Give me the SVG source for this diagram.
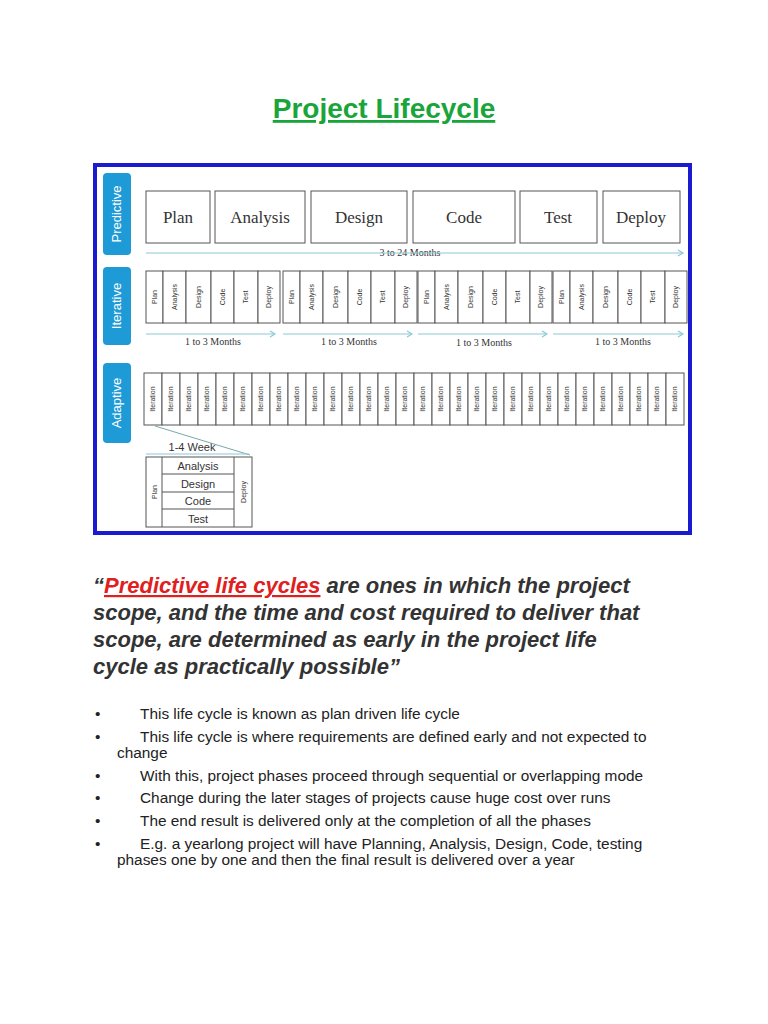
<svg xmlns="http://www.w3.org/2000/svg" width="768" height="1024" viewBox="0 0 768 1024">
<style>
.cell{fill:#fff;stroke:#555;stroke-width:1}
.big{font-family:"Liberation Serif",serif;font-size:17px;fill:#333;text-anchor:middle}
.sm{font-family:"Liberation Sans",sans-serif;font-size:7px;fill:#333;text-anchor:middle}
.tab{fill:#1e9ad6}
.tabt{font-family:"Liberation Sans",sans-serif;font-size:13px;fill:#fff;text-anchor:middle}
.mo{font-family:"Liberation Serif",serif;font-size:10px;fill:#333;text-anchor:middle}
.ln{stroke:#8cc8d8;stroke-width:1.2;fill:none}
.q{font-family:"Liberation Sans",sans-serif;font-size:22px;font-weight:bold;font-style:italic;fill:#333}
.b{font-family:"Liberation Sans",sans-serif;font-size:15.4px;fill:#222}
.ad{font-family:"Liberation Sans",sans-serif;font-size:11px;fill:#333;text-anchor:middle}
</style>
<rect width="768" height="1024" fill="#fff"/>
<text x="384" y="118" text-anchor="middle" font-family="Liberation Sans,sans-serif" font-size="28" font-weight="bold" fill="#1aa53a" text-decoration="underline">Project Lifecycle</text>
<rect x="95" y="165" width="595" height="368" fill="#fff" stroke="#1a1ad0" stroke-width="4"/>
<g id="tabs">
<rect class="tab" x="103" y="173" width="28" height="82" rx="4"/><text class="tabt" transform="translate(121,214) rotate(-90)">Predictive</text>
<rect class="tab" x="103" y="267" width="28" height="78" rx="4"/><text class="tabt" transform="translate(121,306) rotate(-90)">Iterative</text>
<rect class="tab" x="103" y="363" width="28" height="80" rx="4"/><text class="tabt" transform="translate(121,403) rotate(-90)">Adaptive</text>
</g>
<g id="predictive">
<rect class="cell" x="146" y="191" width="64" height="52"/><text class="big" x="178" y="223">Plan</text>
<rect class="cell" x="215" y="191" width="90" height="52"/><text class="big" x="260" y="223">Analysis</text>
<rect class="cell" x="311" y="191" width="96" height="52"/><text class="big" x="359" y="223">Design</text>
<rect class="cell" x="413" y="191" width="102" height="52"/><text class="big" x="464" y="223">Code</text>
<rect class="cell" x="520" y="191" width="77" height="52"/><text class="big" x="558" y="223">Test</text>
<rect class="cell" x="603" y="191" width="77" height="52"/><text class="big" x="641" y="223">Deploy</text>
<text class="mo" x="410" y="256">3 to 24 Months</text>
</g>
<g id="iterative">
<g id="it1" transform="translate(146,271)">
<rect class="cell" x="0" y="0" width="17" height="52"/><rect class="cell" x="17" y="0" width="23" height="52"/><rect class="cell" x="40" y="0" width="25" height="52"/><rect class="cell" x="65" y="0" width="23" height="52"/><rect class="cell" x="88" y="0" width="24" height="52"/><rect class="cell" x="112" y="0" width="22" height="52"/>
<text class="sm" transform="translate(11,26) rotate(-90)">Plan</text><text class="sm" transform="translate(31,26) rotate(-90)">Analysis</text><text class="sm" transform="translate(55,26) rotate(-90)">Design</text><text class="sm" transform="translate(79,26) rotate(-90)">Code</text><text class="sm" transform="translate(102,26) rotate(-90)">Test</text><text class="sm" transform="translate(125,26) rotate(-90)">Deploy</text>
</g>
<use href="#it1" transform="translate(137,0)"/>
<use href="#it1" transform="translate(272,0)"/>
<use href="#it1" transform="translate(407,0)"/>
<text class="mo" x="213" y="345">1 to 3 Months</text>
<text class="mo" x="349" y="345">1 to 3 Months</text>
<text class="mo" x="484" y="346">1 to 3 Months</text>
<text class="mo" x="623" y="345">1 to 3 Months</text>
</g>
<g id="adaptive">
<g id="ai"><rect class="cell" x="144" y="373" width="18" height="52"/><text class="sm" font-size="5.5" transform="translate(155,399) rotate(-90)">Iteration</text></g>
<use href="#ai" x="18"/><use href="#ai" x="36"/><use href="#ai" x="54"/><use href="#ai" x="72"/><use href="#ai" x="90"/><use href="#ai" x="108"/><use href="#ai" x="126"/><use href="#ai" x="144"/><use href="#ai" x="162"/><use href="#ai" x="180"/><use href="#ai" x="198"/><use href="#ai" x="216"/><use href="#ai" x="234"/><use href="#ai" x="252"/><use href="#ai" x="270"/><use href="#ai" x="288"/><use href="#ai" x="306"/><use href="#ai" x="324"/><use href="#ai" x="342"/><use href="#ai" x="360"/><use href="#ai" x="378"/><use href="#ai" x="396"/><use href="#ai" x="414"/><use href="#ai" x="432"/><use href="#ai" x="450"/><use href="#ai" x="468"/><use href="#ai" x="486"/><use href="#ai" x="504"/><use href="#ai" x="522"/>
<text class="ad" x="192" y="451">1-4 Week</text>
</g>
<g id="detail">
<rect class="cell" x="146" y="457" width="106" height="70"/>
<line x1="162" y1="457" x2="162" y2="527" stroke="#555"/><line x1="234" y1="457" x2="234" y2="527" stroke="#555"/>
<line x1="162" y1="474" x2="234" y2="474" stroke="#555"/><line x1="162" y1="492" x2="234" y2="492" stroke="#555"/><line x1="162" y1="509" x2="234" y2="509" stroke="#555"/>
<text class="ad" x="198" y="470">Analysis</text><text class="ad" x="198" y="488">Design</text><text class="ad" x="198" y="505">Code</text><text class="ad" x="198" y="523">Test</text>
<text class="sm" font-size="8" transform="translate(157,492) rotate(-90)">Plan</text>
<text class="sm" font-size="8" transform="translate(246,492) rotate(-90)">Deploy</text>
</g>
<g id="connectors">
<line class="ln" x1="146" y1="253" x2="683" y2="253"/><path class="ln" d="M678,250 L683,253 L678,256"/>
<line class="ln" x1="146" y1="334" x2="275" y2="334"/><path class="ln" d="M270,331 L275,334 L270,337"/>
<line class="ln" x1="283" y1="334" x2="412" y2="334"/><path class="ln" d="M407,331 L412,334 L407,337"/>
<line class="ln" x1="418" y1="334" x2="547" y2="334"/><path class="ln" d="M542,331 L547,334 L542,337"/>
<line class="ln" x1="553" y1="334" x2="683" y2="334"/><path class="ln" d="M678,331 L683,334 L678,337"/>
<line x1="155" y1="426" x2="250" y2="455" stroke="#7aa" stroke-width="1"/>
<line class="ln" x1="146" y1="454" x2="249" y2="454" stroke="#4aa8c8"/>
</g>
<g id="text">
<text class="q" x="93" y="593">“<tspan fill="#e02020" text-decoration="underline">Predictive life cycles</tspan> are ones in which the project</text>
<text class="q" x="93" y="620">scope, and the time and cost required to deliver that</text>
<text class="q" x="93" y="647">scope, are determined as early in the project life</text>
<text class="q" x="93" y="674">cycle as practically possible”</text>
<g class="b">
<text x="95" y="719">•</text><text x="140" y="719">This life cycle is known as plan driven life cycle</text>
<text x="95" y="742">•</text><text x="140" y="742">This life cycle is where requirements are defined early and not expected to</text>
<text x="117" y="758">change</text>
<text x="95" y="781">•</text><text x="140" y="781">With this, project phases proceed through sequential or overlapping mode</text>
<text x="95" y="803">•</text><text x="140" y="803">Change during the later stages of projects cause huge cost over runs</text>
<text x="95" y="826">•</text><text x="140" y="826">The end result is delivered only at the completion of all the phases</text>
<text x="95" y="849">•</text><text x="140" y="849">E.g. a yearlong project will have Planning, Analysis, Design, Code, testing</text>
<text x="117" y="865">phases one by one and then the final result is delivered over a year</text>
</g>
</g>
</svg>
